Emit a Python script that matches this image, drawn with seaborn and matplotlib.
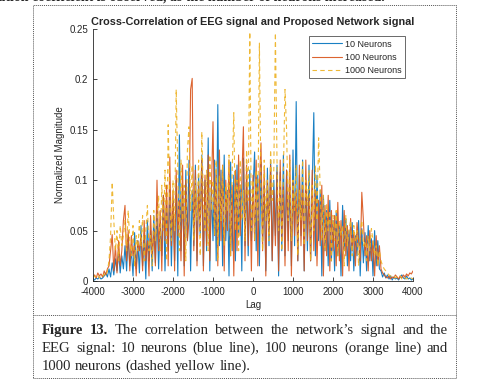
import matplotlib
matplotlib.use('Agg')
import numpy as np
import pandas as pd
import matplotlib.pyplot as plt
import seaborn as sns
from matplotlib.patches import Rectangle
from matplotlib.lines import Line2D

# lag axis, one value every 40 samples
lag = np.arange(-4000, 4001, 40)

blue_10 = [
    0.002, 0.001, 0.003, 0.002, 0.004, 0.002, 0.003, 0.005, 0.008, 0.004,
    0.012, 0.004, 0.018, 0.006, 0.022, 0.010, 0.028, 0.008, 0.025, 0.012,
    0.035, 0.010, 0.045, 0.015, 0.030, 0.005, 0.048, 0.012, 0.040, 0.008,
    0.055, 0.015, 0.045, 0.002, 0.060, 0.020, 0.050, 0.010, 0.065, 0.018,
    0.070, 0.012, 0.058, 0.025, 0.085, 0.010, 0.075, 0.030, 0.090, 0.015,
    0.080, 0.020, 0.100, 0.005, 0.145, 0.030, 0.095, 0.015, 0.110, 0.040,
    0.120, 0.010, 0.090, 0.035, 0.115, 0.020, 0.105, 0.045, 0.125, 0.015,
    0.100, 0.030, 0.142, 0.010, 0.095, 0.040, 0.120, 0.020, 0.175, 0.035,
    0.110, 0.015, 0.125, 0.040, 0.090, 0.005, 0.118, 0.030, 0.105, 0.020,
    0.115, 0.045, 0.095, 0.010, 0.122, 0.035, 0.100, 0.025, 0.110, 0.040,
    0.090, 0.128, 0.030, 0.105, 0.015, 0.118, 0.040, 0.095, 0.010, 0.112,
    0.035, 0.120, 0.020, 0.100, 0.045, 0.115, 0.005, 0.108, 0.030, 0.125,
    0.025, 0.110, 0.040, 0.095, 0.015, 0.130, 0.035, 0.178, 0.020, 0.105,
    0.045, 0.120, 0.010, 0.100, 0.030, 0.115, 0.020, 0.095, 0.167, 0.025,
    0.105, 0.040, 0.090, 0.005, 0.085, 0.030, 0.070, 0.015, 0.080, 0.020,
    0.060, 0.010, 0.068, 0.025, 0.055, 0.005, 0.075, 0.030, 0.062, 0.015,
    0.050, 0.020, 0.058, 0.010, 0.045, 0.025, 0.060, 0.005, 0.052, 0.018,
    0.048, 0.010, 0.055, 0.020, 0.042, 0.005, 0.050, 0.015, 0.040, 0.012,
    0.010, 0.004, 0.008, 0.003, 0.006, 0.002, 0.005, 0.001, 0.004, 0.002,
    0.003, 0.001, 0.004, 0.006, 0.003, 0.002, 0.005, 0.002, 0.003, 0.001,
    0.002]

orange_100 = [
    0.004, 0.006, 0.003, 0.008, 0.005, 0.007, 0.004, 0.010, 0.006, 0.012,
    0.015, 0.030, 0.046, 0.010, 0.035, 0.008, 0.040, 0.015, 0.030, 0.060,
    0.075, 0.020, 0.050, 0.010, 0.045, 0.025, 0.035, 0.005, 0.040, 0.030,
    0.045, 0.010, 0.060, 0.020, 0.040, 0.005, 0.065, 0.025, 0.050, 0.015,
    0.100, 0.030, 0.070, 0.010, 0.085, 0.040, 0.095, 0.015, 0.123, 0.035,
    0.090, 0.010, 0.110, 0.045, 0.080, 0.020, 0.115, 0.005, 0.100, 0.040,
    0.060, 0.190, 0.201, 0.030, 0.110, 0.015, 0.095, 0.050, 0.120, 0.010,
    0.105, 0.035, 0.125, 0.020, 0.090, 0.158, 0.045, 0.110, 0.015, 0.130,
    0.040, 0.115, 0.010, 0.100, 0.050, 0.120, 0.025, 0.095, 0.005, 0.110,
    0.030, 0.125, 0.045, 0.100, 0.153, 0.020, 0.115, 0.035, 0.090, 0.010,
    0.105, 0.040, 0.120, 0.015, 0.095, 0.137, 0.030, 0.110, 0.005, 0.100,
    0.045, 0.115, 0.020, 0.090, 0.035, 0.108, 0.010, 0.120, 0.040, 0.095,
    0.015, 0.110, 0.030, 0.125, 0.005, 0.100, 0.045, 0.090, 0.020, 0.115,
    0.035, 0.095, 0.010, 0.120, 0.040, 0.085, 0.020, 0.110, 0.030, 0.090,
    0.015, 0.080, 0.035, 0.095, 0.005, 0.075, 0.025, 0.085, 0.010, 0.070,
    0.030, 0.065, 0.015, 0.078, 0.020, 0.060, 0.005, 0.070, 0.025, 0.055,
    0.010, 0.062, 0.030, 0.050, 0.015, 0.058, 0.040, 0.020, 0.088, 0.060,
    0.025, 0.045, 0.010, 0.050, 0.020, 0.040, 0.005, 0.045, 0.015, 0.035,
    0.012, 0.008, 0.006, 0.004, 0.003, 0.005, 0.002, 0.004, 0.003, 0.006,
    0.004, 0.002, 0.005, 0.003, 0.006, 0.004, 0.007, 0.005, 0.008, 0.007,
    0.010]

yellow_1000 = [
    0.003, 0.005, 0.004, 0.006, 0.003, 0.005, 0.004, 0.007, 0.005, 0.010,
    0.020, 0.045, 0.098, 0.060, 0.030, 0.050, 0.020, 0.055, 0.035, 0.045,
    0.060, 0.030, 0.070, 0.040, 0.025, 0.055, 0.015, 0.045, 0.030, 0.060,
    0.035, 0.065, 0.020, 0.050, 0.075, 0.030, 0.045, 0.015, 0.070, 0.040,
    0.060, 0.085, 0.030, 0.095, 0.050, 0.110, 0.020, 0.155, 0.080, 0.040,
    0.100, 0.050, 0.190, 0.110, 0.030, 0.120, 0.060, 0.095, 0.020, 0.130,
    0.153, 0.070, 0.115, 0.040, 0.100, 0.060, 0.120, 0.025, 0.148, 0.080,
    0.050, 0.110, 0.030, 0.125, 0.070, 0.100, 0.045, 0.120, 0.020, 0.105,
    0.060, 0.115, 0.035, 0.095, 0.070, 0.125, 0.025, 0.110, 0.167, 0.050,
    0.100, 0.030, 0.120, 0.060, 0.090, 0.040, 0.130, 0.080, 0.247, 0.050,
    0.100, 0.040, 0.110, 0.060, 0.236, 0.090, 0.030, 0.120, 0.060, 0.100,
    0.040, 0.130, 0.080, 0.110, 0.246, 0.120, 0.050, 0.100, 0.030, 0.110,
    0.190, 0.150, 0.060, 0.120, 0.040, 0.100, 0.070, 0.115, 0.025, 0.090,
    0.060, 0.120, 0.035, 0.100, 0.075, 0.110, 0.020, 0.095, 0.050, 0.115,
    0.060, 0.142, 0.090, 0.040, 0.085, 0.030, 0.077, 0.050, 0.070, 0.020,
    0.065, 0.040, 0.070, 0.025, 0.060, 0.045, 0.055, 0.015, 0.065, 0.035,
    0.050, 0.060, 0.025, 0.055, 0.040, 0.050, 0.015, 0.045, 0.060, 0.035,
    0.040, 0.020, 0.045, 0.030, 0.052, 0.040, 0.025, 0.035, 0.015, 0.030,
    0.020, 0.015, 0.012, 0.010, 0.008, 0.006, 0.005, 0.004, 0.005, 0.003,
    0.004, 0.003, 0.005, 0.002, 0.004, 0.003, 0.002, 0.003, 0.002, 0.003,
    0.002]

series_names = ['10 Neurons', '100 Neurons', '1000 Neurons']
colors = ['#0072BD', '#D95319', '#EDB120']

df = pd.concat([
    pd.DataFrame({'Lag': lag, 'Magnitude': vals, 'Series': name})
    for name, vals in zip(series_names, [blue_10, orange_100, yellow_1000])
])

sns.set_theme(style='white')
plt.rcParams['font.family'] = ['Liberation Sans', 'DejaVu Sans']
plt.rcParams['axes.unicode_minus'] = False

W, H = 484, 386
fig = plt.figure(figsize=(W / 100, H / 100), dpi=100)
ax = fig.add_axes([93 / W, 1 - 281 / H, 320 / W, 252 / H])

sns.lineplot(data=df, x='Lag', y='Magnitude', hue='Series', style='Series',
             palette=dict(zip(series_names, colors)),
             dashes={'10 Neurons': '', '100 Neurons': '', '1000 Neurons': (4, 3)},
             estimator=None, lw=0.8, alpha=0.9, ax=ax)

ax.set_xlim(-4000, 4000)
ax.set_ylim(0, 0.25)
xt = [-4000, -3000, -2000, -1000, 0, 1000, 2000, 3000, 4000]
yt = [0, 0.05, 0.1, 0.15, 0.2, 0.25]
ax.set_xticks(xt)
ax.set_xticklabels([str(v) for v in xt])
ax.set_yticks(yt)
ax.set_yticklabels(['%g' % v for v in yt])
ax.tick_params(direction='in', length=3, width=0.6, labelsize=7, colors='#262626',
               bottom=True, left=True)
ax.tick_params(axis='x', pad=4.5)
ax.tick_params(axis='y', pad=3.5)
for s in ['top', 'right']:
    ax.spines[s].set_visible(False)
for s in ['left', 'bottom']:
    ax.spines[s].set_color('#262626')
    ax.spines[s].set_linewidth(0.6)

ax.set_title('Cross-Correlation of EEG signal and Proposed Network signal',
             fontsize=7.8, fontweight='bold', pad=3)
ax.set_xlabel('Lag', fontsize=7, color='#262626', labelpad=2)
ax.set_ylabel('Normalized Magnitude', fontsize=7, color='#262626', labelpad=3)

leg = ax.legend(loc='upper right', bbox_to_anchor=(1.0 - 8 / 320, 1.0 - 7 / 252),
                fontsize=6.5, frameon=True, fancybox=False, borderpad=0.4,
                handlelength=3.3, handletextpad=0.3, labelspacing=0.45,
                borderaxespad=0)
leg.get_frame().set_edgecolor('#262626')
leg.get_frame().set_linewidth(0.6)
for h in leg.get_lines():
    h.set_linewidth(0.8)

# dotted frame around figure and caption
def px(x, y):
    return x / W, 1 - y / H

x0, y0 = px(33, 5)
x1, y1 = px(456, 378)
fig.patches.append(Rectangle((x0, y1), x1 - x0, y0 - y1, transform=fig.transFigure,
                             fill=False, edgecolor='#555555', lw=0.7, ls=(0, (1, 1))))
sx0, sy = px(33, 315)
fig.lines.append(Line2D([x0, x1], [sy, sy], transform=fig.transFigure,
                        color='#555555', lw=0.7, ls=(0, (1, 1))))

# clipped text line above the frame
fig.text(385 / W, 1 - 1 / H, 'correlation coefficient is observed, as the number of neurons increased.',
         ha='right', va='baseline', fontsize=10, fontweight='bold', family='Liberation Serif')

renderer = fig.canvas.get_renderer()
cap_fs = 10.6


def justified_line(words, y, left=42, right=448, justify=True):
    texts = []
    widths = []
    for w, bold in words:
        t = fig.text(0, 1 - y / H, w, fontsize=cap_fs, family='Liberation Serif',
                     fontweight='bold' if bold else 'normal', va='baseline')
        texts.append(t)
        widths.append(t.get_window_extent(renderer).width)
    if justify and len(words) > 1:
        gap = (right - left - sum(widths)) / (len(words) - 1)
    else:
        gap = renderer.points_to_pixels(cap_fs) * 0.25
    x = left
    for t, wd in zip(texts, widths):
        t.set_x(x / W)
        x += wd + gap


line1 = [('Figure', True), ('13.', True)] + [(w, False) for w in
         "The correlation between the network’s signal and the".split()]
line2 = [(w, False) for w in "EEG signal: 10 neurons (blue line), 100 neurons (orange line) and".split()]
line3 = [(w, False) for w in "1000 neurons (dashed yellow line).".split()]
justified_line(line1, 334)
justified_line(line2, 352)
justified_line(line3, 370, justify=False)

fig.savefig('out.png', dpi=100)
